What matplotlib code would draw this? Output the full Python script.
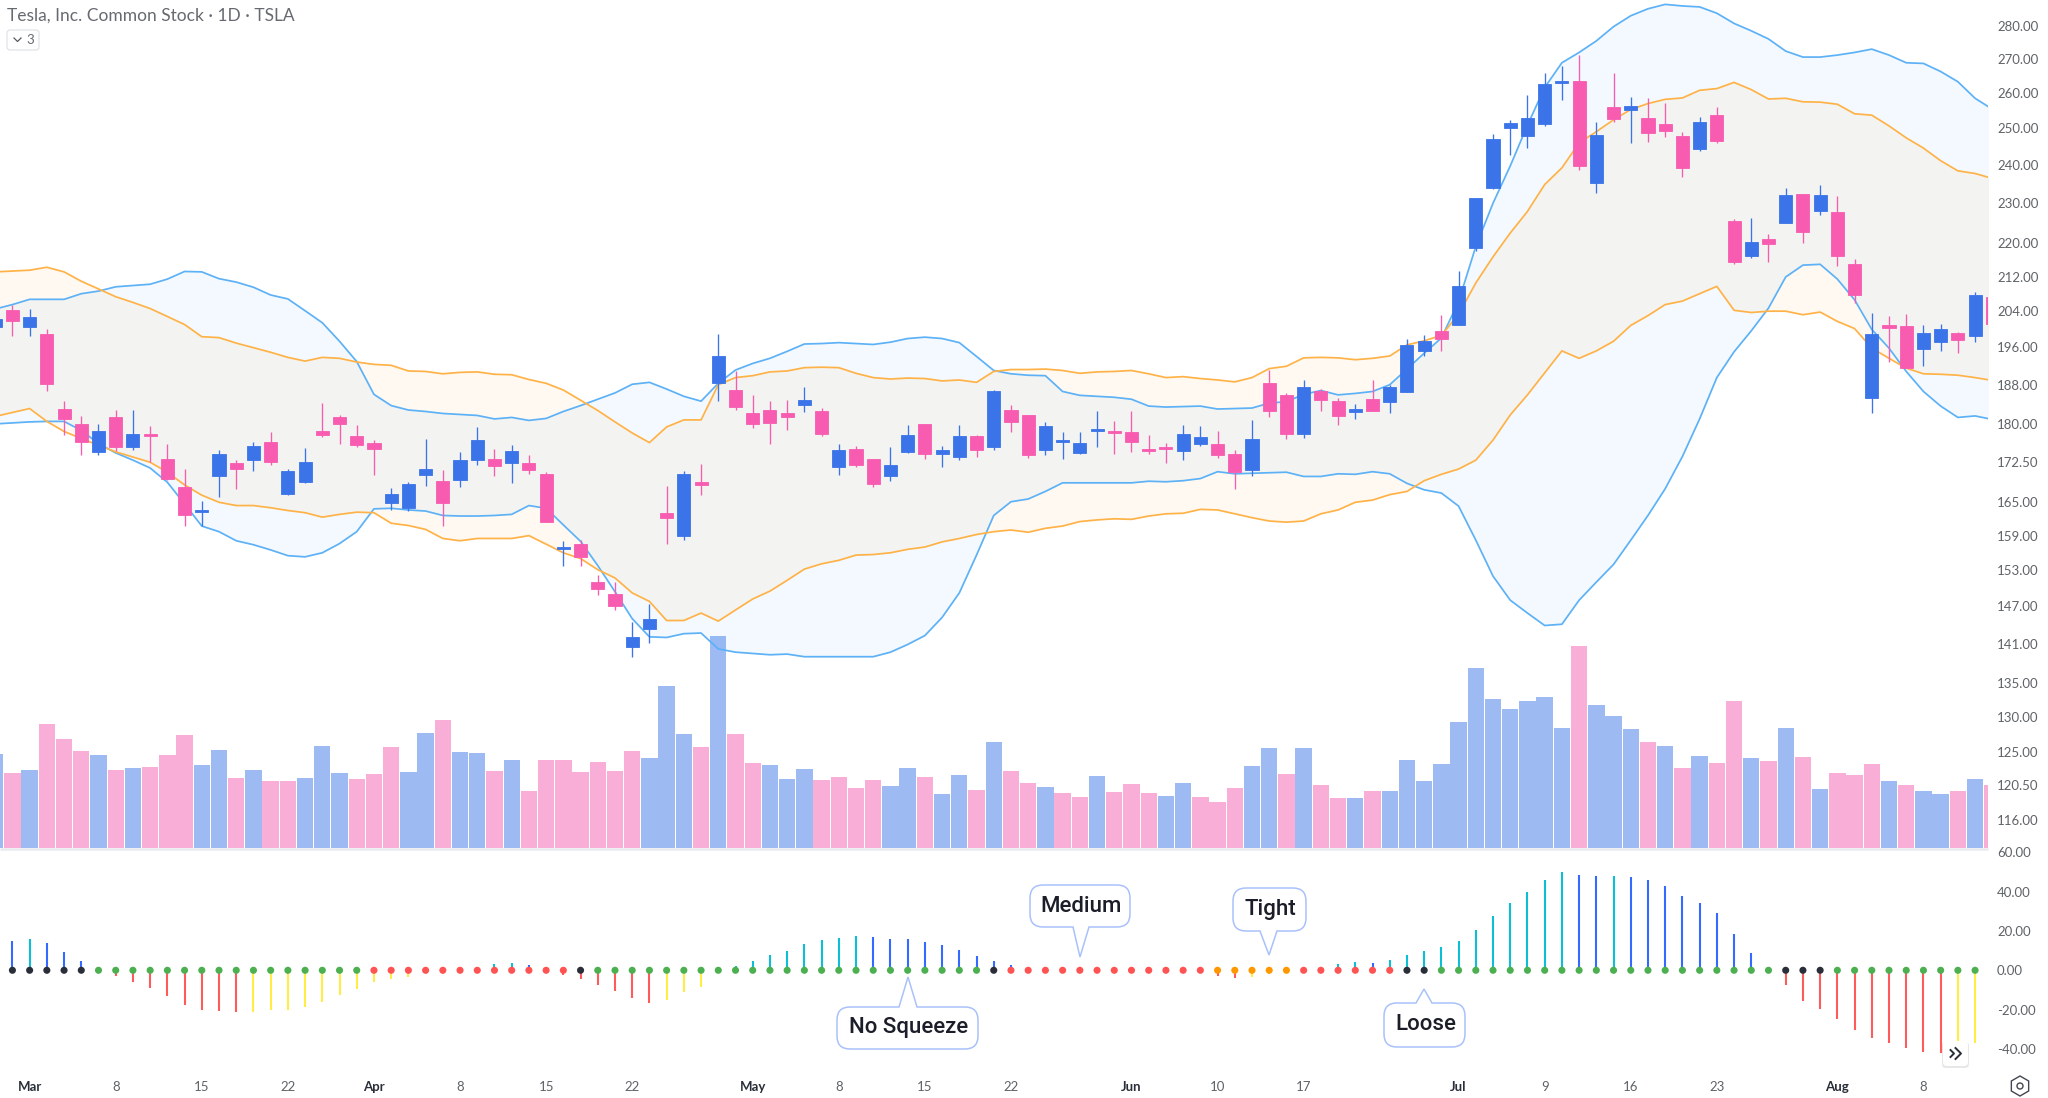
from matplotlib import pyplot as plt
from matplotlib.path import Path
from matplotlib.patches import PathPatch, FancyBboxPatch, RegularPolygon, Circle
from matplotlib.ticker import NullLocator, FixedLocator, FixedFormatter

plt.rcParams['font.family'] = ['Lato', 'DejaVu Sans']

# daily candles, one row per trading day from the left edge
opens = [200.4, 204.2, 200.5, 198.8, 183.1, 180, 174.4, 181.4, 175.5, 177.9, 173.1, 167.9, 163.2, 169.9, 172.4, 173, 176.4, 166.6, 168.7, 178.6,
         181.3, 177.6, 176.3, 164.8, 164, 170, 169, 169.2, 172.9, 173.1, 172.4, 172.4, 170.3, 156.7, 157.6, 151.1, 149, 140.5, 143.3, 163,
         158.9, 168.8, 188.4, 187, 182.1, 182.9, 182.2, 183.8, 182.5, 171.5, 175, 173.1, 169.9, 174.5, 179.9, 174.1, 173.5, 177.6, 175.5, 182.9,
         181.8, 174.8, 176.4, 174.2, 178.6, 178.6, 178.3, 175, 175.5, 174.6, 176.1, 176.1, 174, 171, 188.4, 185.9, 178, 186.6, 184.6, 182.4,
         185, 184.4, 186.5, 195.1, 199.5, 200.9, 218.8, 233.9, 249.9, 247.7, 251.2, 262.8, 263.4, 235.2, 255.9, 255.1, 252.7, 251.1, 247.8, 244.2,
         253.7, 225.6, 216.9, 221.1, 225, 232.3, 227.9, 227.7, 214.9, 185.2, 200.9, 200.7, 195.7, 197.1, 199.2, 198.4, 207.3]
highs = [204, 205.3, 204.5, 199.9, 184.6, 181.6, 180, 182.8, 182.9, 179.6, 176.1, 171.2, 165.2, 174.8, 172.9, 176.4, 178.3, 171.2, 175.2, 184.2,
         181.8, 179.7, 176.8, 167.7, 168.8, 177.1, 171, 174.5, 179.4, 175, 175.9, 173.8, 170.7, 158.1, 158.2, 152.2, 151, 144.4, 147.3, 168,
         170.9, 172.2, 198.9, 190.9, 185.9, 184.7, 184.8, 187.6, 183.3, 176.1, 175.7, 173.1, 175.5, 179.7, 180, 175.7, 179.7, 177.7, 186.9, 183.8,
         181.8, 180.3, 178.3, 178.3, 182.7, 180.5, 182.7, 177.8, 176.3, 179.8, 179.5, 178.6, 174.8, 180.7, 191.1, 186.2, 189, 187.2, 185.3, 184.1,
         188.9, 188, 197.7, 198.6, 203.2, 213.3, 231.4, 248.3, 252.3, 259.3, 265.8, 267.8, 271.2, 251.8, 265.8, 258.7, 258.5, 257.1, 248.9, 253.2,
         255.8, 226, 226.3, 222.3, 233.9, 232.3, 234.6, 231.8, 216.2, 203.6, 202.9, 203.4, 200.8, 201.1, 199.4, 208.4, 207.5]
lows = [199, 198.5, 198.5, 186.8, 177.8, 173.8, 173.8, 174.6, 174.8, 172.5, 169.1, 160.7, 160.7, 166, 167.5, 170.9, 171.9, 166.4, 168.6, 177.5,
        176.1, 175.5, 170.1, 163.5, 163.4, 168.1, 160.7, 167.9, 172, 169.9, 168.5, 170.3, 161.4, 153.8, 153.8, 148.8, 146.4, 139, 141.2, 157.5,
        158.3, 166.4, 184.6, 182.9, 179.2, 176.1, 178.7, 182.4, 177.6, 170.1, 171.5, 167.8, 169, 174.2, 173.2, 171.5, 172.9, 173.6, 174.8, 178.4,
        173.4, 173.9, 173.2, 174, 175.5, 174, 174.5, 174, 172.3, 172.9, 175.7, 173.3, 167.5, 169.8, 181.3, 177, 177.2, 182.5, 179.8, 180.9,
        182.7, 182.2, 186.4, 194.1, 195.2, 200.9, 218.2, 233.6, 242.5, 244.6, 250.5, 258, 238.6, 232.6, 251.8, 245.8, 246.1, 247.4, 236.9, 243.8,
        246, 214.9, 216.3, 215.5, 225, 220.1, 226.9, 214.4, 205.8, 182.1, 192.8, 191.6, 192, 195.1, 194.7, 197.1, 200.5]
closes = [202.2, 201.7, 202.6, 188.1, 180.9, 176.5, 178.6, 175.4, 178, 177.6, 169.4, 162.6, 163.6, 174, 171.2, 175.7, 172.6, 170.9, 172.6, 177.8,
          179.9, 175.9, 175.1, 166.6, 168.4, 171.2, 164.9, 173, 176.9, 171.7, 174.6, 171, 161.5, 157, 155.3, 149.8, 147, 142, 145, 162.2,
          170.3, 168.2, 194.1, 183.4, 180, 180.1, 181.3, 184.9, 177.9, 174.8, 172, 168.4, 172, 177.7, 174, 174.8, 177.6, 174.9, 186.7, 180.3,
          173.8, 179.5, 176.8, 176.3, 179, 178.2, 176.4, 174.7, 175, 178, 177.5, 173.8, 170.6, 177.1, 182.6, 178, 187.6, 184.8, 181.5, 183.1,
          182.7, 187.5, 196.4, 197.4, 197.9, 209.9, 231.3, 247, 251.5, 252.9, 262.6, 263.3, 239.7, 248.2, 252.4, 256.3, 248.5, 249.2, 239.2, 251.8,
          246.4, 215.5, 220.3, 219.9, 232.1, 222.7, 232.1, 216.8, 207.6, 199, 200.2, 191.6, 199.2, 200.1, 197.6, 207.8, 201.2]

# Bollinger bands (blue)
bb_upper = [204.5, 205.5, 206.7, 206.7, 206.7, 208, 208.6, 209.6, 209.9, 210.2, 211.4, 213.2, 213.1, 211.5, 210.7, 209.5, 207.7, 206.8, 204.1, 201.4,
            197.3, 192.9, 186, 183.7, 182.8, 182.5, 182.1, 181.9, 181.7, 181, 181.3, 180.7, 181.1, 182.5, 183.7, 185, 186.3, 188.1, 188.5, 187.1,
            185.6, 184.6, 188.3, 191.1, 192.5, 193.6, 195.1, 196.7, 196.8, 197, 196.8, 196.6, 197.1, 197.9, 198.2, 197.9, 197, 194, 191, 190.3,
            190, 189.9, 186.6, 185.8, 185.6, 185.4, 185, 183.6, 183.4, 183.5, 183.6, 183, 183.1, 183.2, 184.2, 184.5, 186, 186.8, 185.9, 186.2,
            186.6, 188, 191.3, 194.7, 198, 206.2, 219.2, 230, 239.7, 250.8, 261.5, 268.8, 271.9, 275.4, 279.8, 283.2, 285.4, 286.8, 286.3, 286,
            284, 280.8, 278.5, 276, 272.3, 270.5, 270.5, 271.1, 271.9, 272.9, 271.1, 268.8, 268.6, 266.2, 263.2, 258.4, 255.3]
bb_lower = [180, 180.2, 180.4, 180.5, 180.5, 178.7, 176.1, 174.3, 172.9, 171.4, 168.7, 164.7, 160.7, 159.7, 158.1, 157.4, 156.5, 155.5, 155.3, 156,
            157.6, 159.7, 163.8, 163.9, 163.6, 163.4, 162.6, 162.5, 162.5, 162.6, 162.8, 164.4, 163.9, 160.9, 158, 153.8, 149.4, 145, 142.1, 142,
            142.6, 142.7, 140.2, 139.7, 139.5, 139.3, 139.4, 139, 139, 139, 139, 139, 139.7, 140.9, 142.3, 145.2, 149.2, 155.6, 162.6, 165.1,
            165.6, 167, 168.6, 168.6, 168.6, 168.6, 168.6, 168.9, 168.8, 169, 169.4, 170.7, 170.3, 170.4, 170.5, 170.6, 169.8, 169.8, 170.3, 170.2,
            170.7, 170.3, 168.5, 167.3, 166.7, 164.3, 158.2, 152, 148, 145.9, 143.9, 144.1, 148, 151, 154, 158.2, 162.6, 167.5, 173.6, 181,
            189.5, 195, 199.6, 204.7, 211.9, 214.7, 214.9, 211.4, 206.6, 199.9, 195.8, 190.8, 186.6, 183.6, 181.3, 181.6, 180.9]

# Keltner channel (orange)
kc_upper = [213.1, 213.3, 213.5, 214.2, 213.1, 210.9, 209.1, 207.3, 206, 204.6, 202.8, 201, 198.3, 198.1, 196.9, 195.9, 194.9, 193.8, 193, 193.8,
            193.6, 192.8, 192.3, 192.1, 190.9, 190.8, 190.3, 190.6, 190.7, 190.2, 190.1, 189.1, 188.3, 186.9, 184.8, 182.7, 180.4, 178.2, 176.3, 179.4,
            180.8, 180.8, 188, 189.5, 189.9, 190.7, 190.9, 191.6, 191.7, 191.6, 190.4, 189.5, 189.2, 189.4, 189.3, 188.8, 189, 188.5, 190.8, 191.2,
            191.2, 191.3, 191, 190.4, 190.7, 190.8, 191, 190.3, 189.5, 189.7, 189.3, 189, 188.6, 189.5, 191.4, 191.9, 193.7, 193.8, 193.7, 193.3,
            193.6, 194.1, 196.5, 197.4, 198.6, 203.3, 210.5, 216.7, 222.5, 227.9, 234.8, 239.2, 245.9, 249, 252.3, 255.2, 256.9, 258.1, 258.5, 260.7,
            261.2, 263, 260.9, 258.2, 258.4, 257.4, 257.3, 256.7, 254, 253.6, 250.6, 247.3, 244.5, 241.1, 238.4, 237.7, 236.4]
kc_lower = [181.5, 182.3, 183.1, 180.5, 178.5, 177.1, 175.8, 174.5, 173.5, 172.5, 170.6, 168.2, 166.3, 165, 164.4, 164.4, 164, 163.5, 163.1, 162.3,
            162.8, 163.2, 163.1, 161.2, 160.8, 160.1, 158.5, 158.1, 158.5, 158.5, 158.5, 159, 157.5, 156, 155, 153.1, 151.7, 149.2, 147.8, 144.7,
            144.7, 145.9, 144.6, 146.4, 148.2, 149.5, 151.3, 153.2, 154.1, 154.7, 155.6, 155.7, 156, 156.6, 157, 157.9, 158.5, 159.2, 159.7, 160,
            159.6, 160.3, 160.7, 161.5, 161.8, 162, 161.9, 162.5, 162.9, 163, 163.7, 163.6, 162.9, 162.2, 161.6, 161.4, 161.6, 162.9, 163.6, 165,
            165.4, 166.4, 167, 169, 170.2, 171.2, 172.9, 176.8, 181.8, 185.9, 190.5, 195.2, 193.6, 195.2, 197.3, 200.8, 203, 205.5, 206.3, 208,
            209.7, 204.2, 203.7, 204, 204, 203.2, 203.8, 201.7, 200.1, 195.8, 193.6, 191.5, 190.3, 190.2, 190, 189.5, 188.9]

# volume in millions of shares
volumes = [108, 86.2, 89.7, 142.5, 124.9, 111.5, 107.3, 90, 92, 93.1, 106.9, 129.9, 95, 112.3, 80.5, 89.7, 76.6, 77.4, 80.1, 117.6,
           86.6, 79.3, 84.7, 116.1, 87.4, 131.8, 147.5, 110, 109.2, 88.5, 100.8, 65.1, 100.8, 101.1, 87.4, 98.9, 88.9, 111.1, 103.1, 186.2,
           130.7, 116.1, 244.1, 131, 97.3, 95.4, 79.3, 90.8, 78.2, 81.2, 69, 77.8, 71.6, 92, 81.6, 62.1, 83.9, 66.7, 121.8, 88.9,
           75.1, 69.7, 63.2, 58.6, 82.8, 64, 73.9, 63.2, 60.2, 75.1, 59, 53.3, 69, 94.3, 115.3, 85.4, 115.3, 72, 57.9, 57.9,
           65.5, 65.1, 101.5, 77, 96.2, 145.2, 206.9, 170.9, 159.8, 169, 173.6, 137.5, 232.2, 164, 152.1, 136.8, 121.8, 117.2, 92.3, 105.7,
           97.7, 168.6, 103.4, 99.6, 137.5, 104.6, 67.8, 86.2, 83.5, 96.2, 76.6, 72.4, 65.9, 62.1, 65.1, 79.3, 72.4]

# squeeze momentum histogram
momentum = [15, 14.7, 15.8, 13.7, 9.2, 4.6, 0.2, -3.1, -5.9, -8.8, -13.1, -17.6, -20.2, -20.5, -21.2, -21, -20.3, -20.2, -18.8, -16.3,
            -12.5, -9.5, -5.9, -4.4, -3.4, -2, -1.7, -1.4, 0.5, 3, 3.6, 2.7, -0.5, -2.2, -4.6, -7.6, -10.5, -14.2, -16.6, -15,
            -11.2, -8.6, -0.2, 2, 4.6, 7.6, 9.7, 13.2, 15.3, 16.3, 17.2, 16.8, 16.1, 15.8, 14.4, 12.7, 10.5, 7.1, 4.6, 2.5,
            0.3, -0.5, -0.4, -1.2, -1, -1.2, -0.8, -0.5, -0.7, -0.5, -0.8, -3, -4.1, -3.4, -1.9, -1.4, -0.3, -0.2, 3, 4.1,
            3.9, 5.1, 7.6, 9.7, 11.7, 14.9, 20.7, 27.5, 34.1, 39.7, 45.8, 49.8, 48.6, 48, 48.1, 47.5, 45.8, 43, 37.6, 34.2,
            29.3, 18.3, 8.8, 0.2, -7.3, -15.6, -19.8, -24.9, -30.5, -34.7, -36.8, -39.5, -41.5, -42, -40, -37.1, -34]
# squeeze state per day: k = loose, g = no squeeze, r = medium, o = tight
squeeze = ('kkkkkk' + 'g' * 16 + 'r' * 12 + 'k' + 'g' * 23 + 'k' + 'r' * 12
           + 'o' * 5 + 'r' * 6 + 'kk' + 'g' * 20 + 'kkk' + 'g' * 10)

price_ticks = [280, 270, 260, 250, 240, 230, 220, 212, 204, 196, 188, 180, 172.5, 165, 159, 153, 147, 141, 135, 130, 125, 120.5, 116]
momentum_ticks = [60, 40, 20, 0, -20, -40]
date_pos = [2, 7, 12, 17, 22, 27, 32, 37, 44, 49, 54, 59, 66, 71, 76, 85, 90, 95, 100, 107, 112]
date_labels = ['Mar', '8', '15', '22', 'Apr', '8', '15', '22', 'May', '8', '15', '22', 'Jun', '10', '17', 'Jul', '9', '16', '23', 'Aug', '8']

BLUE = '#3b74e8'
PINK = '#f75cb0'
W, H = 2048, 1098
LABEL = '#5f6368'

fig = plt.figure(figsize=(W / 100, H / 100), dpi=100, facecolor='white')
x_range = (0.279, 115.75)
main_box = [0, (H - 848) / H, 1988 / W, 848 / H]

ax_vol = fig.add_axes(main_box, zorder=1)
ax = fig.add_axes(main_box, zorder=2, facecolor='none')
ax_sq = fig.add_axes([0, (H - 1066) / H, 1988 / W, 216 / H], zorder=1)
top = fig.add_axes([0, 0, 1, 1], zorder=5, facecolor='none')

days = list(range(len(closes)))

# volume, coloured by close against the previous close
vol_up = [True] + [closes[i] >= closes[i - 1] for i in days[1:]]
ax_vol.bar(days, volumes, width=0.95, color=['#9dbaf3' if u else '#f9aed8' for u in vol_up], linewidth=0)
ax_vol.set_ylim(0, 974.7)

# bands: two see-through fills give the grey overlap by themselves
ax.fill_between(days, bb_lower, bb_upper, color='#2196f3', alpha=0.05, linewidth=0, zorder=1)
ax.fill_between(days, kc_lower, kc_upper, color='#ff9800', alpha=0.05, linewidth=0, zorder=1)
ax.plot(days, bb_upper, color='#5db1f6', lw=1.25, zorder=2)
ax.plot(days, bb_lower, color='#5db1f6', lw=1.25, zorder=2)
ax.plot(days, kc_upper, color='#ffb247', lw=1.25, zorder=2)
ax.plot(days, kc_lower, color='#ffb247', lw=1.25, zorder=2)

# candles
candle_col = [BLUE if c >= o else PINK for o, c in zip(opens, closes)]
ax.vlines(days, lows, highs, colors=candle_col, lw=0.95, zorder=3)
body_low = [min(o, c) for o, c in zip(opens, closes)]
body_h = [abs(o - c) for o, c in zip(opens, closes)]
ax.bar(days, body_h, bottom=body_low, width=0.76, color=candle_col, edgecolor=candle_col, linewidth=0.6, zorder=4)

ax.set_yscale('log')
ax.set_ylim(112.4, 288.2)
ax.yaxis.set_major_locator(FixedLocator(price_ticks))
ax.yaxis.set_major_formatter(FixedFormatter(['%.2f' % p for p in price_ticks]))
ax.yaxis.set_minor_locator(NullLocator())
ax.yaxis.tick_right()
ax.tick_params(axis='y', length=0, pad=6.5, labelsize=9.5, labelcolor=LABEL)

# squeeze histogram and dots
stem_col = []
for i, m in enumerate(momentum):
    prev = momentum[i - 1] if i else m
    if m >= 0:
        stem_col.append('#00bcd4' if m >= prev else '#2962ff')
    else:
        stem_col.append('#ff5252' if m <= prev else '#ffeb3b')
ax_sq.vlines(days, 0, momentum, colors=stem_col, lw=1.5, alpha=0.95, zorder=2)
dot_col = {'k': '#2a2e39', 'g': '#4caf50', 'r': '#ff5252', 'o': '#ff9800'}
ax_sq.scatter(days, [0] * len(days), c=[dot_col[s] for s in squeeze], s=26, linewidths=0, zorder=3)
ax_sq.set_ylim(-48.7, 61.2)
ax_sq.set_yticks(momentum_ticks, ['%.2f' % m for m in momentum_ticks])
ax_sq.yaxis.tick_right()
ax_sq.tick_params(axis='y', length=0, pad=6.5, labelsize=9.5, labelcolor=LABEL)
ax_sq.set_xticks(date_pos, date_labels)
ax_sq.tick_params(axis='x', length=0, pad=10.5, labelsize=9.5, labelcolor=LABEL)
for lab in ax_sq.get_xticklabels():
    if lab.get_text().isalpha():
        lab.set_color('#2a2e39')
        lab.set_fontweight('bold')

for a in (ax_vol, ax, ax_sq):
    a.set_xlim(*x_range)
    for s in a.spines.values():
        s.set_visible(False)
ax.set_xticks([])
ax_vol.set_xticks([])
ax_vol.set_yticks([])

# overlay in pixels for the chart chrome
top.set_xlim(0, W)
top.set_ylim(H, 0)
top.axis('off')

top.plot([0, 1988], [849, 849], color='#e9ebee', lw=1.8, solid_capstyle='butt')


def callout(label, x0, y0, x1, y1, tip_x, tip_y, b0, b1):
    r = 13
    up = tip_y < y0
    V = [(x0 + r, y0)]
    C = [Path.MOVETO]
    if up:
        V += [(b0, y0), (tip_x, tip_y), (b1, y0)]
        C += [Path.LINETO] * 3
    V += [(x1 - r, y0), (x1, y0), (x1, y0 + r), (x1, y1 - r), (x1, y1), (x1 - r, y1)]
    C += [Path.LINETO, Path.CURVE3, Path.CURVE3, Path.LINETO, Path.CURVE3, Path.CURVE3]
    if not up:
        V += [(b1, y1), (tip_x, tip_y), (b0, y1)]
        C += [Path.LINETO] * 3
    V += [(x0 + r, y1), (x0, y1), (x0, y1 - r), (x0, y0 + r), (x0, y0), (x0 + r, y0)]
    C += [Path.LINETO, Path.CURVE3, Path.CURVE3, Path.LINETO, Path.CURVE3, Path.CURVE3]
    top.add_patch(PathPatch(Path(V, C), facecolor='white', edgecolor='#a9c1fb', lw=1.1))
    top.text((x0 + x1) / 2 + 1, (y0 + y1) / 2, label, ha='center', va='center', fontsize=16, color='#1b1d28',
             family='Roboto', fontweight='medium')


callout('No Squeeze', 837, 1007, 978, 1049, 908, 977, 899, 917)
callout('Medium', 1030, 885, 1130, 927, 1080, 957, 1073, 1089)
callout('Tight', 1233, 888, 1306, 931, 1269, 955, 1260, 1277)
callout('Loose', 1384, 1003, 1465, 1047, 1424, 989, 1416, 1432)

# title and legend toggle
top.text(7, 16, 'Tesla, Inc. Common Stock · 1D · TSLA', ha='left', va='center', fontsize=12.5, color='#666a70')
top.add_patch(FancyBboxPatch((7, 30), 32, 20, boxstyle='round,pad=0,rounding_size=3', facecolor='white', edgecolor='#e0e3e8', lw=0.9))
top.plot([14, 17.5, 21], [38, 41.5, 38], color='#555a60', lw=0.9)
top.text(30, 40, '3', ha='center', va='center', fontsize=9.5, color='#666a70')

# scroll button and settings icon
top.add_patch(FancyBboxPatch((1942, 1042), 27, 26, boxstyle='round,pad=0,rounding_size=4', facecolor='#00000018', edgecolor='none'))
top.add_patch(FancyBboxPatch((1943, 1041), 25, 25, boxstyle='round,pad=0,rounding_size=4', facecolor='white', edgecolor='none'))
top.plot([1950.5, 1954, 1950.5], [1050, 1053.5, 1057], color='#2a2e39', lw=1.4)
top.plot([1955.5, 1961, 1955.5], [1048, 1053.5, 1059], color='#2a2e39', lw=1.4)
top.add_patch(RegularPolygon((2020, 1086), 6, radius=10, facecolor='none', edgecolor='#444750', lw=1.0))
top.add_patch(Circle((2020, 1086), 3, facecolor='none', edgecolor='#444750', lw=1.0))

fig.savefig('out.png', dpi=100)
